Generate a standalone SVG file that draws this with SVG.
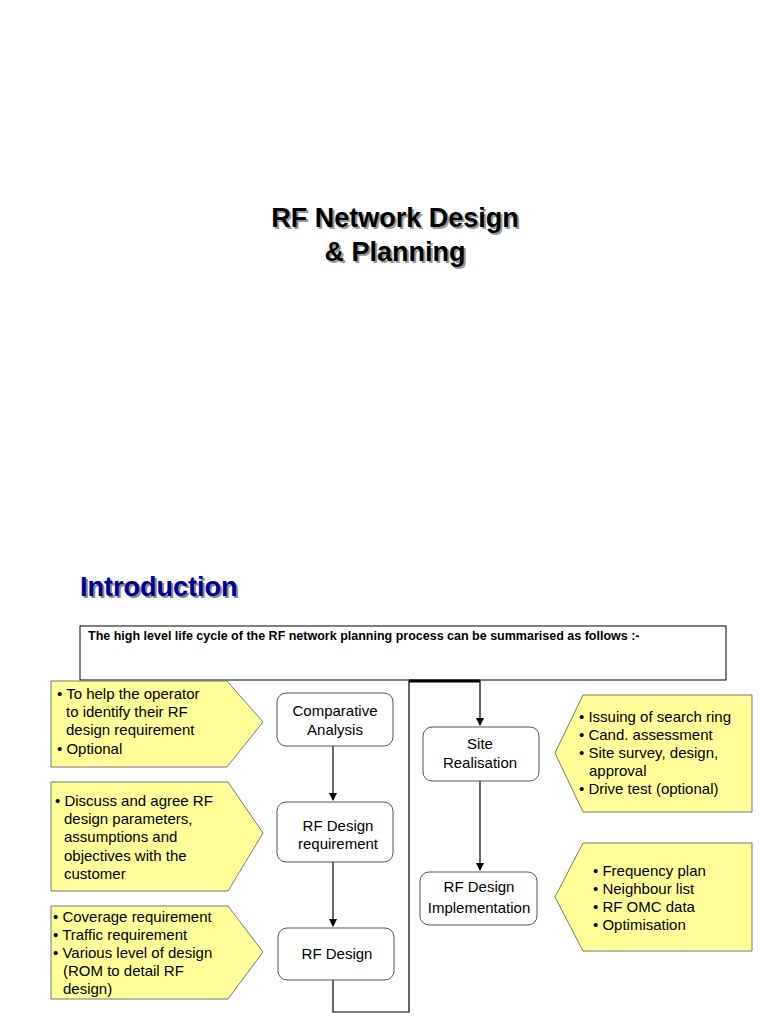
<svg xmlns="http://www.w3.org/2000/svg" width="768" height="1024" viewBox="0 0 768 1024">
<style>
text{font-family:"Liberation Sans",Arial,sans-serif;}
.node rect{fill:#fff;stroke:#555;stroke-width:1;}
.nt{font-size:15px;fill:#000;text-anchor:middle;}
.co{fill:#ffff99;stroke:#777;stroke-width:1;}
.ct{font-size:15px;fill:#000;}
.ln{fill:none;stroke:#000;stroke-width:1.2;}
</style>
<defs><marker id="ar" markerWidth="8" markerHeight="8" refX="7" refY="4" orient="auto" markerUnits="userSpaceOnUse"><path d="M0,0 L8,4 L0,8 z" fill="#000"/></marker></defs>
<rect width="768" height="1024" fill="#fff"/>
<g id="title" font-weight="bold" font-size="27" text-anchor="middle">
<text x="397" y="229" fill="#999">RF Network Design</text>
<text x="397" y="263" fill="#999">&amp; Planning</text>
<text x="395" y="227" fill="#000">RF Network Design</text>
<text x="395" y="261" fill="#000">&amp; Planning</text>
</g>
<g id="intro" font-weight="bold" font-size="27">
<text x="82" y="598" fill="#888">Introduction</text>
<text x="80" y="596" fill="#000099">Introduction</text>
</g>
<g id="topbox"><rect x="80" y="626" width="646" height="54" fill="#fff" stroke="#000"/>
<text x="88" y="640" font-size="12.5" font-weight="bold">The high level life cycle of the RF network planning process can be summarised as follows :-</text></g>
<g id="connectors">
<path class="ln" d="M333,980 V1012 H409 V681 H480 V725" marker-end="url(#ar)"/>
<line x1="409" y1="681" x2="480" y2="681" stroke="#000" stroke-width="3"/>
<line class="ln" x1="333" y1="746" x2="333" y2="800" marker-end="url(#ar)"/>
<line class="ln" x1="333" y1="862" x2="333" y2="926" marker-end="url(#ar)"/>
<line class="ln" x1="480" y1="781" x2="480" y2="870" marker-end="url(#ar)"/>
</g>
<g id="n1" class="node"><rect x="277" y="693" width="116" height="53" rx="9"/><text class="nt" x="335" y="716">Comparative</text><text class="nt" x="335" y="735">Analysis</text></g>
<g id="n2" class="node"><rect x="277" y="802" width="116" height="60" rx="9"/><text class="nt" x="338" y="831">RF Design</text><text class="nt" x="338" y="849">requirement</text></g>
<g id="n3" class="node"><rect x="278" y="928" width="116" height="52" rx="9"/><text class="nt" x="337" y="959">RF Design</text></g>
<g id="n4" class="node"><rect x="423" y="727" width="116" height="54" rx="9"/><text class="nt" x="480" y="749">Site</text><text class="nt" x="480" y="768">Realisation</text></g>
<g id="n5" class="node"><rect x="420" y="872" width="117" height="53" rx="9"/><text class="nt" x="479" y="892">RF Design</text><text class="nt" x="479" y="913">Implementation</text></g>
<g id="c1"><path class="co" d="M51,681 H227 L263,722 L227,767 H51 Z"/>
<text class="ct" x="57" y="699">• To help the operator</text><text class="ct" x="66" y="717">to identify their RF</text><text class="ct" x="66" y="735">design requirement</text><text class="ct" x="57" y="754">• Optional</text></g>
<g id="c2"><path class="co" d="M51,782 H228 L263,833 L228,891 H51 Z"/>
<text class="ct" x="55" y="806">• Discuss and agree RF</text><text class="ct" x="64" y="824">design parameters,</text><text class="ct" x="64" y="842">assumptions and</text><text class="ct" x="64" y="861">objectives with the</text><text class="ct" x="64" y="879">customer</text></g>
<g id="c3"><path class="co" d="M51,906 H228 L263,952 L228,999 H51 Z"/>
<text class="ct" x="53" y="922">• Coverage requirement</text><text class="ct" x="53" y="940">• Traffic requirement</text><text class="ct" x="53" y="958">• Various level of design</text><text class="ct" x="63" y="976">(ROM to detail RF</text><text class="ct" x="63" y="994">design)</text></g>
<g id="c4"><path class="co" d="M583,695 H752 V812 H583 L555,753 Z"/>
<text class="ct" x="579" y="722">• Issuing of search ring</text><text class="ct" x="579" y="740">• Cand. assessment</text><text class="ct" x="579" y="758">• Site survey, design,</text><text class="ct" x="589" y="776">approval</text><text class="ct" x="579" y="794">• Drive test (optional)</text></g>
<g id="c5"><path class="co" d="M583,843 H752 V951 H583 L555,897 Z"/>
<text class="ct" x="593" y="876">•  Frequency plan</text><text class="ct" x="593" y="894">•  Neighbour list</text><text class="ct" x="593" y="912">•  RF OMC data</text><text class="ct" x="593" y="930">•  Optimisation</text></g>
</svg>
